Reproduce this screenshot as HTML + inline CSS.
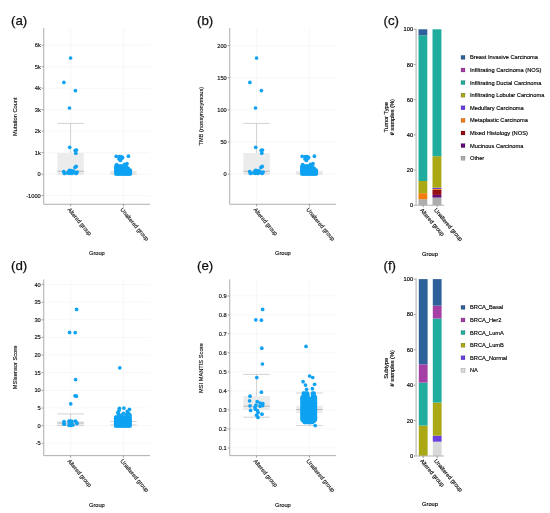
<!DOCTYPE html>
<html><head><meta charset="utf-8"><title>Figure</title>
<style>html,body{margin:0;padding:0;background:#fff}svg{display:block;filter:blur(0.35px);font-family:"Liberation Sans",sans-serif}</style>
</head><body>
<svg width="550" height="513" viewBox="0 0 550 513">
<rect width="550" height="513" fill="#fff"/>
<g>
<g stroke="#f5f5f5" stroke-width="0.7" fill="none">
<path d="M43.75 45.2H150"/>
<path d="M43.75 66.7H150"/>
<path d="M43.75 88.2H150"/>
<path d="M43.75 109.7H150"/>
<path d="M43.75 131.2H150"/>
<path d="M43.75 152.7H150"/>
<path d="M43.75 174.2H150"/>
<path d="M43.75 195.6H150"/>
<path d="M70.6 28V204.25"/>
<path d="M123.4 28V204.25"/>
</g>
<g stroke="#c6c6c6" stroke-width="0.8" fill="#ececec">
<path d="M70.6 123.4V153M70.6 173.4V173.9" fill="none"/>
<path d="M57.4 123.4H83.8M57.4 173.9H83.8" fill="none"/>
<rect x="57.4" y="153" width="26.4" height="20.4" stroke="none"/>
<path d="M57.4 171.3H83.8" stroke="#adadad" fill="none"/>
</g>
<g stroke="#c6c6c6" stroke-width="0.8" fill="#ececec">
<path d="M110.2 171.9H136.6M110.2 173.85H136.6" fill="none"/>
</g>
<path d="M43.75 28V204.25H150" stroke="#adadad" stroke-width="1" fill="none"/>
<g stroke="#777" stroke-width="0.7">
<path d="M41.65 45.2H43.35"/>
<path d="M41.65 66.7H43.35"/>
<path d="M41.65 88.2H43.35"/>
<path d="M41.65 109.7H43.35"/>
<path d="M41.65 131.2H43.35"/>
<path d="M41.65 152.7H43.35"/>
<path d="M41.65 174.2H43.35"/>
<path d="M41.65 195.6H43.35"/>
<path d="M70.6 204.25V206.25"/>
<path d="M123.4 204.25V206.25"/>
</g>
<g font-size="5.7" fill="#111" stroke="#111" stroke-width="0.15" text-anchor="end">
<text x="40.75" y="47.2">6k</text>
<text x="40.75" y="68.7">5k</text>
<text x="40.75" y="90.2">4k</text>
<text x="40.75" y="111.7">3k</text>
<text x="40.75" y="133.2">2k</text>
<text x="40.75" y="154.7">1k</text>
<text x="40.75" y="176.2">0</text>
<text x="40.75" y="197.6">-1000</text>
</g>
<g font-size="5.7" fill="#111" stroke="#111" stroke-width="0.15">
<text transform="translate(67.2 209.85) rotate(50)">Altered group</text>
<text transform="translate(120 209.85) rotate(50)">Unaltered group</text>
<text x="96.88" y="255.25" text-anchor="middle">Group</text>
<text transform="translate(16.75 116.6) rotate(-90)" text-anchor="middle">Mutation Count</text>
</g>
<text x="11" y="25" font-size="13.3" fill="#111" stroke="#111" stroke-width="0.25">(a)</text>
<g fill="#0fa2f2">
<circle cx="70.6" cy="58" r="1.85"/>
<circle cx="63.9" cy="82.4" r="1.85"/>
<circle cx="75.4" cy="90.6" r="1.85"/>
<circle cx="69.5" cy="108" r="1.85"/>
<circle cx="69.7" cy="147.3" r="1.85"/>
<circle cx="76.5" cy="150" r="1.85"/>
<circle cx="75.2" cy="150.4" r="1.85"/>
<circle cx="75.8" cy="153.2" r="1.85"/>
<circle cx="76.2" cy="166.4" r="1.85"/>
<circle cx="75" cy="167.4" r="1.85"/>
<circle cx="63.7" cy="171.5" r="1.85"/>
<circle cx="64.4" cy="173.5" r="1.85"/>
<circle cx="68.6" cy="171.8" r="1.85"/>
<circle cx="70.6" cy="171.2" r="1.85"/>
<circle cx="73" cy="172" r="1.85"/>
<circle cx="74.9" cy="172.6" r="1.85"/>
<circle cx="77.2" cy="172" r="1.85"/>
<circle cx="69.5" cy="173.3" r="1.85"/>
<circle cx="72" cy="173.4" r="1.85"/>
<circle cx="76.2" cy="173.5" r="1.85"/>
<circle cx="67.6" cy="173" r="1.85"/>
<circle cx="69.5" cy="170.3" r="1.85"/>
<circle cx="71.5" cy="170.5" r="1.85"/>
<circle cx="73.5" cy="171" r="1.85"/>
<circle cx="70.6" cy="172.5" r="1.85"/>
<circle cx="116.2" cy="156.3" r="1.85"/>
<circle cx="119.3" cy="156.7" r="1.85"/>
<circle cx="121" cy="156.5" r="1.85"/>
<circle cx="122.5" cy="157.3" r="1.85"/>
<circle cx="128.4" cy="156.2" r="1.85"/>
<circle cx="119" cy="159" r="1.85"/>
<circle cx="120.4" cy="160.4" r="1.85"/>
<circle cx="121.8" cy="158.4" r="1.85"/>
<circle cx="127" cy="163.7" r="1.85"/>
<circle cx="116.7" cy="164.5" r="1.85"/>
<circle cx="124.5" cy="164.3" r="1.85"/>
<circle cx="116" cy="166" r="1.85"/>
<circle cx="117.17" cy="166" r="1.85"/>
<circle cx="118.41" cy="166" r="1.85"/>
<circle cx="119.79" cy="166" r="1.85"/>
<circle cx="120.75" cy="166" r="1.85"/>
<circle cx="121.96" cy="166" r="1.85"/>
<circle cx="123.19" cy="166" r="1.85"/>
<circle cx="124.18" cy="166" r="1.85"/>
<circle cx="125.54" cy="166" r="1.85"/>
<circle cx="116" cy="167.21" r="1.85"/>
<circle cx="117.34" cy="166.94" r="1.85"/>
<circle cx="118.29" cy="166.94" r="1.85"/>
<circle cx="119.73" cy="167.24" r="1.85"/>
<circle cx="120.54" cy="167.38" r="1.85"/>
<circle cx="122.19" cy="167.22" r="1.85"/>
<circle cx="123.21" cy="166.97" r="1.85"/>
<circle cx="124.1" cy="167.16" r="1.85"/>
<circle cx="125.31" cy="166.99" r="1.85"/>
<circle cx="126.6" cy="166.91" r="1.85"/>
<circle cx="116" cy="168.27" r="1.85"/>
<circle cx="117.16" cy="168.46" r="1.85"/>
<circle cx="118.39" cy="168.36" r="1.85"/>
<circle cx="119.57" cy="168.37" r="1.85"/>
<circle cx="120.75" cy="168.17" r="1.85"/>
<circle cx="122.21" cy="168.53" r="1.85"/>
<circle cx="123.32" cy="168.39" r="1.85"/>
<circle cx="124.25" cy="168.15" r="1.85"/>
<circle cx="125.43" cy="168.07" r="1.85"/>
<circle cx="126.86" cy="168.24" r="1.85"/>
<circle cx="128.09" cy="168.23" r="1.85"/>
<circle cx="116" cy="169.66" r="1.85"/>
<circle cx="117.37" cy="169.18" r="1.85"/>
<circle cx="118.24" cy="169.63" r="1.85"/>
<circle cx="119.56" cy="169.67" r="1.85"/>
<circle cx="120.72" cy="169.22" r="1.85"/>
<circle cx="122.02" cy="169.57" r="1.85"/>
<circle cx="123.03" cy="169.22" r="1.85"/>
<circle cx="124.26" cy="169.66" r="1.85"/>
<circle cx="125.66" cy="169.24" r="1.85"/>
<circle cx="126.6" cy="169.23" r="1.85"/>
<circle cx="127.7" cy="169.58" r="1.85"/>
<circle cx="128.95" cy="169.46" r="1.85"/>
<circle cx="116" cy="170.55" r="1.85"/>
<circle cx="117.04" cy="170.69" r="1.85"/>
<circle cx="118.2" cy="170.64" r="1.85"/>
<circle cx="119.38" cy="170.53" r="1.85"/>
<circle cx="120.62" cy="170.46" r="1.85"/>
<circle cx="122.19" cy="170.72" r="1.85"/>
<circle cx="123.05" cy="170.76" r="1.85"/>
<circle cx="124.2" cy="170.52" r="1.85"/>
<circle cx="125.71" cy="170.64" r="1.85"/>
<circle cx="126.53" cy="170.82" r="1.85"/>
<circle cx="127.77" cy="170.45" r="1.85"/>
<circle cx="129.24" cy="170.49" r="1.85"/>
<circle cx="130.3" cy="170.47" r="1.85"/>
<circle cx="116" cy="171.5" r="1.85"/>
<circle cx="116.99" cy="171.76" r="1.85"/>
<circle cx="118.25" cy="171.76" r="1.85"/>
<circle cx="119.51" cy="171.69" r="1.85"/>
<circle cx="121" cy="171.71" r="1.85"/>
<circle cx="122" cy="171.9" r="1.85"/>
<circle cx="122.99" cy="171.54" r="1.85"/>
<circle cx="124.55" cy="171.87" r="1.85"/>
<circle cx="125.41" cy="171.56" r="1.85"/>
<circle cx="126.84" cy="171.93" r="1.85"/>
<circle cx="127.76" cy="171.94" r="1.85"/>
<circle cx="129.3" cy="171.77" r="1.85"/>
<circle cx="130.3" cy="171.68" r="1.85"/>
<circle cx="116" cy="172.66" r="1.85"/>
<circle cx="116.96" cy="173.09" r="1.85"/>
<circle cx="118.25" cy="172.96" r="1.85"/>
<circle cx="119.45" cy="173.02" r="1.85"/>
<circle cx="120.81" cy="172.75" r="1.85"/>
<circle cx="121.8" cy="172.97" r="1.85"/>
<circle cx="122.93" cy="172.72" r="1.85"/>
<circle cx="124.37" cy="173.03" r="1.85"/>
<circle cx="125.59" cy="172.75" r="1.85"/>
<circle cx="126.93" cy="172.71" r="1.85"/>
<circle cx="127.67" cy="172.74" r="1.85"/>
<circle cx="129.08" cy="172.64" r="1.85"/>
<circle cx="130.3" cy="172.7" r="1.85"/>
<circle cx="116" cy="174" r="1.85"/>
<circle cx="117.13" cy="174" r="1.85"/>
<circle cx="118.42" cy="174" r="1.85"/>
<circle cx="119.39" cy="174" r="1.85"/>
<circle cx="120.7" cy="174" r="1.85"/>
<circle cx="122.15" cy="174" r="1.85"/>
<circle cx="123.39" cy="174" r="1.85"/>
<circle cx="124.42" cy="174" r="1.85"/>
<circle cx="125.63" cy="174" r="1.85"/>
<circle cx="126.77" cy="174" r="1.85"/>
<circle cx="127.74" cy="174" r="1.85"/>
<circle cx="128.88" cy="174" r="1.85"/>
<circle cx="130.3" cy="174" r="1.85"/>
</g>
</g>
<g>
<g stroke="#f5f5f5" stroke-width="0.7" fill="none">
<path d="M229.75 45.5H336"/>
<path d="M229.75 77.7H336"/>
<path d="M229.75 109.8H336"/>
<path d="M229.75 142H336"/>
<path d="M229.75 174.2H336"/>
<path d="M256.6 28V204.25"/>
<path d="M309.4 28V204.25"/>
</g>
<g stroke="#c6c6c6" stroke-width="0.8" fill="#ececec">
<path d="M256.6 123.4V153M256.6 173.4V173.9" fill="none"/>
<path d="M243.4 123.4H269.8M243.4 173.9H269.8" fill="none"/>
<rect x="243.4" y="153" width="26.4" height="20.4" stroke="none"/>
<path d="M243.4 171.3H269.8" stroke="#adadad" fill="none"/>
</g>
<g stroke="#c6c6c6" stroke-width="0.8" fill="#ececec">
<path d="M296.2 171.9H322.6M296.2 173.85H322.6" fill="none"/>
</g>
<path d="M229.75 28V204.25H336" stroke="#adadad" stroke-width="1" fill="none"/>
<g stroke="#777" stroke-width="0.7">
<path d="M227.65 45.5H229.35"/>
<path d="M227.65 77.7H229.35"/>
<path d="M227.65 109.8H229.35"/>
<path d="M227.65 142H229.35"/>
<path d="M227.65 174.2H229.35"/>
<path d="M256.6 204.25V206.25"/>
<path d="M309.4 204.25V206.25"/>
</g>
<g font-size="5.7" fill="#111" stroke="#111" stroke-width="0.15" text-anchor="end">
<text x="226.75" y="47.5">200</text>
<text x="226.75" y="79.7">150</text>
<text x="226.75" y="111.8">100</text>
<text x="226.75" y="144">50</text>
<text x="226.75" y="176.2">0</text>
</g>
<g font-size="5.7" fill="#111" stroke="#111" stroke-width="0.15">
<text transform="translate(253.2 209.85) rotate(50)">Altered group</text>
<text transform="translate(306 209.85) rotate(50)">Unaltered group</text>
<text x="282.88" y="255.25" text-anchor="middle">Group</text>
<text transform="translate(202.75 116.2) rotate(-90)" text-anchor="middle">TMB (nonsynonymous)</text>
</g>
<text x="197" y="25" font-size="13.3" fill="#111" stroke="#111" stroke-width="0.25">(b)</text>
<g fill="#0fa2f2">
<circle cx="256.6" cy="58" r="1.85"/>
<circle cx="249.9" cy="82.4" r="1.85"/>
<circle cx="261.4" cy="90.6" r="1.85"/>
<circle cx="255.5" cy="108" r="1.85"/>
<circle cx="255.7" cy="147.3" r="1.85"/>
<circle cx="262.5" cy="150" r="1.85"/>
<circle cx="261.2" cy="150.4" r="1.85"/>
<circle cx="261.8" cy="153.2" r="1.85"/>
<circle cx="262.2" cy="166.4" r="1.85"/>
<circle cx="261" cy="167.4" r="1.85"/>
<circle cx="249.7" cy="171.5" r="1.85"/>
<circle cx="250.4" cy="173.5" r="1.85"/>
<circle cx="254.6" cy="171.8" r="1.85"/>
<circle cx="256.6" cy="171.2" r="1.85"/>
<circle cx="259" cy="172" r="1.85"/>
<circle cx="260.9" cy="172.6" r="1.85"/>
<circle cx="263.2" cy="172" r="1.85"/>
<circle cx="255.5" cy="173.3" r="1.85"/>
<circle cx="258" cy="173.4" r="1.85"/>
<circle cx="262.2" cy="173.5" r="1.85"/>
<circle cx="253.6" cy="173" r="1.85"/>
<circle cx="255.5" cy="170.3" r="1.85"/>
<circle cx="257.5" cy="170.5" r="1.85"/>
<circle cx="259.5" cy="171" r="1.85"/>
<circle cx="256.6" cy="172.5" r="1.85"/>
<circle cx="302.2" cy="156.3" r="1.85"/>
<circle cx="305.3" cy="156.7" r="1.85"/>
<circle cx="307" cy="156.5" r="1.85"/>
<circle cx="308.5" cy="157.3" r="1.85"/>
<circle cx="314.4" cy="156.2" r="1.85"/>
<circle cx="305" cy="159" r="1.85"/>
<circle cx="306.4" cy="160.4" r="1.85"/>
<circle cx="307.8" cy="158.4" r="1.85"/>
<circle cx="313" cy="163.7" r="1.85"/>
<circle cx="302.7" cy="164.5" r="1.85"/>
<circle cx="310.5" cy="164.3" r="1.85"/>
<circle cx="302" cy="166" r="1.85"/>
<circle cx="303.17" cy="166" r="1.85"/>
<circle cx="304.41" cy="166" r="1.85"/>
<circle cx="305.79" cy="166" r="1.85"/>
<circle cx="306.75" cy="166" r="1.85"/>
<circle cx="307.96" cy="166" r="1.85"/>
<circle cx="309.19" cy="166" r="1.85"/>
<circle cx="310.18" cy="166" r="1.85"/>
<circle cx="311.54" cy="166" r="1.85"/>
<circle cx="302" cy="167.21" r="1.85"/>
<circle cx="303.34" cy="166.94" r="1.85"/>
<circle cx="304.29" cy="166.94" r="1.85"/>
<circle cx="305.73" cy="167.24" r="1.85"/>
<circle cx="306.54" cy="167.38" r="1.85"/>
<circle cx="308.19" cy="167.22" r="1.85"/>
<circle cx="309.21" cy="166.97" r="1.85"/>
<circle cx="310.1" cy="167.16" r="1.85"/>
<circle cx="311.31" cy="166.99" r="1.85"/>
<circle cx="312.6" cy="166.91" r="1.85"/>
<circle cx="302" cy="168.27" r="1.85"/>
<circle cx="303.16" cy="168.46" r="1.85"/>
<circle cx="304.39" cy="168.36" r="1.85"/>
<circle cx="305.57" cy="168.37" r="1.85"/>
<circle cx="306.75" cy="168.17" r="1.85"/>
<circle cx="308.21" cy="168.53" r="1.85"/>
<circle cx="309.32" cy="168.39" r="1.85"/>
<circle cx="310.25" cy="168.15" r="1.85"/>
<circle cx="311.43" cy="168.07" r="1.85"/>
<circle cx="312.86" cy="168.24" r="1.85"/>
<circle cx="314.09" cy="168.23" r="1.85"/>
<circle cx="302" cy="169.66" r="1.85"/>
<circle cx="303.37" cy="169.18" r="1.85"/>
<circle cx="304.24" cy="169.63" r="1.85"/>
<circle cx="305.56" cy="169.67" r="1.85"/>
<circle cx="306.72" cy="169.22" r="1.85"/>
<circle cx="308.02" cy="169.57" r="1.85"/>
<circle cx="309.03" cy="169.22" r="1.85"/>
<circle cx="310.26" cy="169.66" r="1.85"/>
<circle cx="311.66" cy="169.24" r="1.85"/>
<circle cx="312.6" cy="169.23" r="1.85"/>
<circle cx="313.7" cy="169.58" r="1.85"/>
<circle cx="314.95" cy="169.46" r="1.85"/>
<circle cx="302" cy="170.55" r="1.85"/>
<circle cx="303.04" cy="170.69" r="1.85"/>
<circle cx="304.2" cy="170.64" r="1.85"/>
<circle cx="305.38" cy="170.53" r="1.85"/>
<circle cx="306.62" cy="170.46" r="1.85"/>
<circle cx="308.19" cy="170.72" r="1.85"/>
<circle cx="309.05" cy="170.76" r="1.85"/>
<circle cx="310.2" cy="170.52" r="1.85"/>
<circle cx="311.71" cy="170.64" r="1.85"/>
<circle cx="312.53" cy="170.82" r="1.85"/>
<circle cx="313.77" cy="170.45" r="1.85"/>
<circle cx="315.24" cy="170.49" r="1.85"/>
<circle cx="316.3" cy="170.47" r="1.85"/>
<circle cx="302" cy="171.5" r="1.85"/>
<circle cx="302.99" cy="171.76" r="1.85"/>
<circle cx="304.25" cy="171.76" r="1.85"/>
<circle cx="305.51" cy="171.69" r="1.85"/>
<circle cx="307" cy="171.71" r="1.85"/>
<circle cx="308" cy="171.9" r="1.85"/>
<circle cx="308.99" cy="171.54" r="1.85"/>
<circle cx="310.55" cy="171.87" r="1.85"/>
<circle cx="311.41" cy="171.56" r="1.85"/>
<circle cx="312.84" cy="171.93" r="1.85"/>
<circle cx="313.76" cy="171.94" r="1.85"/>
<circle cx="315.3" cy="171.77" r="1.85"/>
<circle cx="316.3" cy="171.68" r="1.85"/>
<circle cx="302" cy="172.66" r="1.85"/>
<circle cx="302.96" cy="173.09" r="1.85"/>
<circle cx="304.25" cy="172.96" r="1.85"/>
<circle cx="305.45" cy="173.02" r="1.85"/>
<circle cx="306.81" cy="172.75" r="1.85"/>
<circle cx="307.8" cy="172.97" r="1.85"/>
<circle cx="308.93" cy="172.72" r="1.85"/>
<circle cx="310.37" cy="173.03" r="1.85"/>
<circle cx="311.59" cy="172.75" r="1.85"/>
<circle cx="312.93" cy="172.71" r="1.85"/>
<circle cx="313.67" cy="172.74" r="1.85"/>
<circle cx="315.08" cy="172.64" r="1.85"/>
<circle cx="316.3" cy="172.7" r="1.85"/>
<circle cx="302" cy="174" r="1.85"/>
<circle cx="303.13" cy="174" r="1.85"/>
<circle cx="304.42" cy="174" r="1.85"/>
<circle cx="305.39" cy="174" r="1.85"/>
<circle cx="306.7" cy="174" r="1.85"/>
<circle cx="308.15" cy="174" r="1.85"/>
<circle cx="309.39" cy="174" r="1.85"/>
<circle cx="310.42" cy="174" r="1.85"/>
<circle cx="311.63" cy="174" r="1.85"/>
<circle cx="312.77" cy="174" r="1.85"/>
<circle cx="313.74" cy="174" r="1.85"/>
<circle cx="314.88" cy="174" r="1.85"/>
<circle cx="316.3" cy="174" r="1.85"/>
</g>
</g>
<g>
<g stroke="#f5f5f5" stroke-width="0.7" fill="none">
<path d="M43.75 284.6H150"/>
<path d="M43.75 302.2H150"/>
<path d="M43.75 319.8H150"/>
<path d="M43.75 337.4H150"/>
<path d="M43.75 355H150"/>
<path d="M43.75 372.6H150"/>
<path d="M43.75 390.4H150"/>
<path d="M43.75 408H150"/>
<path d="M43.75 425.6H150"/>
<path d="M43.75 443.2H150"/>
<path d="M70.6 279.4V455.65"/>
<path d="M123.4 279.4V455.65"/>
</g>
<g stroke="#c6c6c6" stroke-width="0.8" fill="#ececec">
<path d="M70.6 413.9V421M70.6 425V425.4" fill="none"/>
<path d="M57.4 413.9H83.8M57.4 425.4H83.8" fill="none"/>
<rect x="57.4" y="421" width="26.4" height="4" stroke="none"/>
<path d="M57.4 423H83.8" stroke="#adadad" fill="none"/>
</g>
<g stroke="#c6c6c6" stroke-width="0.8" fill="#ececec">
<path d="M110.2 421.5H136.6M110.2 425H136.6" fill="none"/>
</g>
<path d="M43.75 279.4V455.65H150" stroke="#adadad" stroke-width="1" fill="none"/>
<g stroke="#777" stroke-width="0.7">
<path d="M41.65 284.6H43.35"/>
<path d="M41.65 302.2H43.35"/>
<path d="M41.65 319.8H43.35"/>
<path d="M41.65 337.4H43.35"/>
<path d="M41.65 355H43.35"/>
<path d="M41.65 372.6H43.35"/>
<path d="M41.65 390.4H43.35"/>
<path d="M41.65 408H43.35"/>
<path d="M41.65 425.6H43.35"/>
<path d="M41.65 443.2H43.35"/>
<path d="M70.6 455.65V457.65"/>
<path d="M123.4 455.65V457.65"/>
</g>
<g font-size="5.7" fill="#111" stroke="#111" stroke-width="0.15" text-anchor="end">
<text x="40.75" y="286.6">40</text>
<text x="40.75" y="304.2">35</text>
<text x="40.75" y="321.8">30</text>
<text x="40.75" y="339.4">25</text>
<text x="40.75" y="357">20</text>
<text x="40.75" y="374.6">15</text>
<text x="40.75" y="392.4">10</text>
<text x="40.75" y="410">5</text>
<text x="40.75" y="427.6">0</text>
<text x="40.75" y="445.2">-5</text>
</g>
<g font-size="5.7" fill="#111" stroke="#111" stroke-width="0.15">
<text transform="translate(67.2 461.25) rotate(50)">Altered group</text>
<text transform="translate(120 461.25) rotate(50)">Unaltered group</text>
<text x="96.88" y="506.65" text-anchor="middle">Group</text>
<text transform="translate(16.75 367.5) rotate(-90)" text-anchor="middle">MSIsensor Score</text>
</g>
<text x="11" y="270" font-size="13.3" fill="#111" stroke="#111" stroke-width="0.25">(d)</text>
<g fill="#0fa2f2">
<circle cx="76.6" cy="309.4" r="1.85"/>
<circle cx="69.6" cy="332.4" r="1.85"/>
<circle cx="75.2" cy="332.6" r="1.85"/>
<circle cx="75.6" cy="379.6" r="1.85"/>
<circle cx="75" cy="395.8" r="1.85"/>
<circle cx="76.4" cy="396.2" r="1.85"/>
<circle cx="70.7" cy="403.8" r="1.85"/>
<circle cx="64" cy="421.6" r="1.85"/>
<circle cx="63.8" cy="423.8" r="1.85"/>
<circle cx="70.4" cy="421" r="1.85"/>
<circle cx="69.5" cy="423" r="1.85"/>
<circle cx="71.5" cy="423" r="1.85"/>
<circle cx="69" cy="425.3" r="1.85"/>
<circle cx="71" cy="425.5" r="1.85"/>
<circle cx="73" cy="425" r="1.85"/>
<circle cx="75.5" cy="421" r="1.85"/>
<circle cx="76.5" cy="422.5" r="1.85"/>
<circle cx="77" cy="423.6" r="1.85"/>
<circle cx="69" cy="421.2" r="1.85"/>
<circle cx="72" cy="421.3" r="1.85"/>
<circle cx="64.3" cy="424.2" r="1.85"/>
<circle cx="119.8" cy="367.8" r="1.85"/>
<circle cx="119.4" cy="408.3" r="1.85"/>
<circle cx="123.9" cy="408.1" r="1.85"/>
<circle cx="129.5" cy="409.4" r="1.85"/>
<circle cx="119" cy="410.6" r="1.85"/>
<circle cx="127.2" cy="411.4" r="1.85"/>
<circle cx="123.3" cy="413.3" r="1.85"/>
<circle cx="117.8" cy="412.5" r="1.85"/>
<circle cx="128.7" cy="413.3" r="1.85"/>
<circle cx="118.6" cy="414.2" r="1.85"/>
<circle cx="126.4" cy="414.6" r="1.85"/>
<circle cx="121" cy="415.3" r="1.85"/>
<circle cx="130" cy="415" r="1.85"/>
<circle cx="115.7" cy="417.1" r="1.85"/>
<circle cx="116.76" cy="417.1" r="1.85"/>
<circle cx="118.51" cy="417.1" r="1.85"/>
<circle cx="119.7" cy="417.1" r="1.85"/>
<circle cx="121.13" cy="417.1" r="1.85"/>
<circle cx="121.96" cy="417.1" r="1.85"/>
<circle cx="123.57" cy="417.1" r="1.85"/>
<circle cx="124.79" cy="417.1" r="1.85"/>
<circle cx="126.22" cy="417.1" r="1.85"/>
<circle cx="127.31" cy="417.1" r="1.85"/>
<circle cx="128.95" cy="417.1" r="1.85"/>
<circle cx="130" cy="417.1" r="1.85"/>
<circle cx="115.7" cy="418.14" r="1.85"/>
<circle cx="117.02" cy="418.48" r="1.85"/>
<circle cx="118.5" cy="418.48" r="1.85"/>
<circle cx="119.7" cy="418.5" r="1.85"/>
<circle cx="121.11" cy="418.28" r="1.85"/>
<circle cx="122.29" cy="418.56" r="1.85"/>
<circle cx="123.69" cy="418.32" r="1.85"/>
<circle cx="124.95" cy="418.54" r="1.85"/>
<circle cx="126.14" cy="418.42" r="1.85"/>
<circle cx="127.34" cy="418.4" r="1.85"/>
<circle cx="128.75" cy="418.15" r="1.85"/>
<circle cx="130" cy="418.43" r="1.85"/>
<circle cx="115.7" cy="419.86" r="1.85"/>
<circle cx="117.19" cy="419.73" r="1.85"/>
<circle cx="118.24" cy="419.73" r="1.85"/>
<circle cx="119.64" cy="419.58" r="1.85"/>
<circle cx="121.07" cy="419.41" r="1.85"/>
<circle cx="122.33" cy="419.38" r="1.85"/>
<circle cx="123.55" cy="419.6" r="1.85"/>
<circle cx="124.67" cy="419.71" r="1.85"/>
<circle cx="126.1" cy="419.67" r="1.85"/>
<circle cx="127.61" cy="419.49" r="1.85"/>
<circle cx="128.46" cy="419.51" r="1.85"/>
<circle cx="130" cy="419.7" r="1.85"/>
<circle cx="115.7" cy="420.72" r="1.85"/>
<circle cx="116.83" cy="421.07" r="1.85"/>
<circle cx="118.38" cy="420.84" r="1.85"/>
<circle cx="119.8" cy="420.78" r="1.85"/>
<circle cx="120.98" cy="420.72" r="1.85"/>
<circle cx="122.17" cy="421.02" r="1.85"/>
<circle cx="123.71" cy="421.06" r="1.85"/>
<circle cx="124.74" cy="420.91" r="1.85"/>
<circle cx="126.01" cy="420.69" r="1.85"/>
<circle cx="127.4" cy="421.04" r="1.85"/>
<circle cx="128.87" cy="420.98" r="1.85"/>
<circle cx="130" cy="421.1" r="1.85"/>
<circle cx="115.7" cy="422.02" r="1.85"/>
<circle cx="116.83" cy="422.1" r="1.85"/>
<circle cx="118.19" cy="421.99" r="1.85"/>
<circle cx="119.56" cy="422.19" r="1.85"/>
<circle cx="120.9" cy="422.04" r="1.85"/>
<circle cx="122.37" cy="422.37" r="1.85"/>
<circle cx="123.48" cy="421.92" r="1.85"/>
<circle cx="124.57" cy="422.31" r="1.85"/>
<circle cx="125.87" cy="422.23" r="1.85"/>
<circle cx="127.44" cy="422.03" r="1.85"/>
<circle cx="128.85" cy="421.89" r="1.85"/>
<circle cx="130" cy="421.95" r="1.85"/>
<circle cx="115.7" cy="423.36" r="1.85"/>
<circle cx="116.76" cy="423.55" r="1.85"/>
<circle cx="118.17" cy="423.21" r="1.85"/>
<circle cx="119.37" cy="423.45" r="1.85"/>
<circle cx="120.87" cy="423.45" r="1.85"/>
<circle cx="122.28" cy="423.54" r="1.85"/>
<circle cx="123.73" cy="423.48" r="1.85"/>
<circle cx="124.65" cy="423.37" r="1.85"/>
<circle cx="125.94" cy="423.14" r="1.85"/>
<circle cx="127.39" cy="423.49" r="1.85"/>
<circle cx="128.54" cy="423.27" r="1.85"/>
<circle cx="130" cy="423.31" r="1.85"/>
<circle cx="115.7" cy="424.74" r="1.85"/>
<circle cx="117.01" cy="424.7" r="1.85"/>
<circle cx="118.43" cy="424.59" r="1.85"/>
<circle cx="119.75" cy="424.85" r="1.85"/>
<circle cx="120.69" cy="424.86" r="1.85"/>
<circle cx="122.31" cy="424.46" r="1.85"/>
<circle cx="123.48" cy="424.71" r="1.85"/>
<circle cx="125" cy="424.58" r="1.85"/>
<circle cx="126.13" cy="424.83" r="1.85"/>
<circle cx="127.55" cy="424.86" r="1.85"/>
<circle cx="128.68" cy="424.72" r="1.85"/>
<circle cx="130" cy="424.5" r="1.85"/>
<circle cx="115.7" cy="425.9" r="1.85"/>
<circle cx="117.11" cy="425.9" r="1.85"/>
<circle cx="118.46" cy="425.9" r="1.85"/>
<circle cx="119.67" cy="425.9" r="1.85"/>
<circle cx="121.01" cy="425.9" r="1.85"/>
<circle cx="122.06" cy="425.9" r="1.85"/>
<circle cx="123.7" cy="425.9" r="1.85"/>
<circle cx="125.04" cy="425.9" r="1.85"/>
<circle cx="126.34" cy="425.9" r="1.85"/>
<circle cx="127.42" cy="425.9" r="1.85"/>
<circle cx="128.85" cy="425.9" r="1.85"/>
<circle cx="130" cy="425.9" r="1.85"/>
</g>
</g>
<g>
<g stroke="#f5f5f5" stroke-width="0.7" fill="none">
<path d="M229.75 296H336"/>
<path d="M229.75 314.9H336"/>
<path d="M229.75 333.8H336"/>
<path d="M229.75 352.8H336"/>
<path d="M229.75 371.8H336"/>
<path d="M229.75 390.8H336"/>
<path d="M229.75 409.8H336"/>
<path d="M229.75 429H336"/>
<path d="M229.75 448H336"/>
<path d="M256.6 279.4V455.65"/>
<path d="M309.4 279.4V455.65"/>
</g>
<g stroke="#c6c6c6" stroke-width="0.8" fill="#ececec">
<path d="M256.6 374.4V396.2M256.6 410V417.2" fill="none"/>
<path d="M243.4 374.4H269.8M243.4 417.2H269.8" fill="none"/>
<rect x="243.4" y="396.2" width="26.4" height="13.8" stroke="none"/>
<path d="M243.4 406.2H269.8" stroke="#adadad" fill="none"/>
</g>
<g stroke="#c6c6c6" stroke-width="0.8" fill="#ececec">
<path d="M309.4 393V405.7M309.4 413.4V425.6" fill="none"/>
<path d="M296.2 393H322.6M296.2 425.6H322.6" fill="none"/>
<rect x="296.2" y="405.7" width="26.4" height="7.7" stroke="none"/>
<path d="M296.2 409.5H322.6" stroke="#adadad" fill="none"/>
</g>
<path d="M229.75 279.4V455.65H336" stroke="#adadad" stroke-width="1" fill="none"/>
<g stroke="#777" stroke-width="0.7">
<path d="M227.65 296H229.35"/>
<path d="M227.65 314.9H229.35"/>
<path d="M227.65 333.8H229.35"/>
<path d="M227.65 352.8H229.35"/>
<path d="M227.65 371.8H229.35"/>
<path d="M227.65 390.8H229.35"/>
<path d="M227.65 409.8H229.35"/>
<path d="M227.65 429H229.35"/>
<path d="M227.65 448H229.35"/>
<path d="M256.6 455.65V457.65"/>
<path d="M309.4 455.65V457.65"/>
</g>
<g font-size="5.7" fill="#111" stroke="#111" stroke-width="0.15" text-anchor="end">
<text x="226.75" y="298">0.9</text>
<text x="226.75" y="316.9">0.8</text>
<text x="226.75" y="335.8">0.7</text>
<text x="226.75" y="354.8">0.6</text>
<text x="226.75" y="373.8">0.5</text>
<text x="226.75" y="392.8">0.4</text>
<text x="226.75" y="411.8">0.3</text>
<text x="226.75" y="431">0.2</text>
<text x="226.75" y="450">0.1</text>
</g>
<g font-size="5.7" fill="#111" stroke="#111" stroke-width="0.15">
<text transform="translate(253.2 461.25) rotate(50)">Altered group</text>
<text transform="translate(306 461.25) rotate(50)">Unaltered group</text>
<text x="282.88" y="506.65" text-anchor="middle">Group</text>
<text transform="translate(202.75 368.2) rotate(-90)" text-anchor="middle">MSI MANTIS Score</text>
</g>
<text x="197" y="270" font-size="13.3" fill="#111" stroke="#111" stroke-width="0.25">(e)</text>
<g fill="#0fa2f2">
<circle cx="262.6" cy="309.4" r="1.85"/>
<circle cx="255.8" cy="319.8" r="1.85"/>
<circle cx="261.4" cy="320.2" r="1.85"/>
<circle cx="261.8" cy="348.2" r="1.85"/>
<circle cx="262.4" cy="364" r="1.85"/>
<circle cx="256.8" cy="377.6" r="1.85"/>
<circle cx="261.4" cy="392.2" r="1.85"/>
<circle cx="250" cy="396.2" r="1.85"/>
<circle cx="249.6" cy="400.8" r="1.85"/>
<circle cx="257.2" cy="401.6" r="1.85"/>
<circle cx="260" cy="403" r="1.85"/>
<circle cx="262.8" cy="403.6" r="1.85"/>
<circle cx="256" cy="405" r="1.85"/>
<circle cx="250" cy="405.8" r="1.85"/>
<circle cx="260" cy="406.2" r="1.85"/>
<circle cx="262.6" cy="405.6" r="1.85"/>
<circle cx="255" cy="407.4" r="1.85"/>
<circle cx="255.4" cy="409.2" r="1.85"/>
<circle cx="250.6" cy="410.4" r="1.85"/>
<circle cx="257.4" cy="410.6" r="1.85"/>
<circle cx="258.2" cy="412.6" r="1.85"/>
<circle cx="262" cy="414.2" r="1.85"/>
<circle cx="256.6" cy="415.2" r="1.85"/>
<circle cx="258" cy="417.4" r="1.85"/>
<circle cx="306" cy="346.4" r="1.85"/>
<circle cx="309.6" cy="376" r="1.85"/>
<circle cx="312.7" cy="377.5" r="1.85"/>
<circle cx="303.1" cy="381.7" r="1.85"/>
<circle cx="305.5" cy="385.1" r="1.85"/>
<circle cx="314.6" cy="384.3" r="1.85"/>
<circle cx="306.6" cy="389.3" r="1.85"/>
<circle cx="312.4" cy="388.7" r="1.85"/>
<circle cx="315.2" cy="425.6" r="1.85"/>
<circle cx="303.34" cy="393" r="1.85"/>
<circle cx="304.96" cy="393" r="1.85"/>
<circle cx="306.27" cy="393" r="1.85"/>
<circle cx="307.34" cy="393" r="1.85"/>
<circle cx="312.53" cy="393" r="1.85"/>
<circle cx="314.04" cy="393" r="1.85"/>
<circle cx="303.46" cy="394.48" r="1.85"/>
<circle cx="304.75" cy="394.11" r="1.85"/>
<circle cx="306.24" cy="394.12" r="1.85"/>
<circle cx="307.57" cy="394.18" r="1.85"/>
<circle cx="312.66" cy="394.48" r="1.85"/>
<circle cx="313.89" cy="394.17" r="1.85"/>
<circle cx="303.44" cy="395.79" r="1.85"/>
<circle cx="304.93" cy="395.78" r="1.85"/>
<circle cx="306.31" cy="395.68" r="1.85"/>
<circle cx="307.64" cy="395.47" r="1.85"/>
<circle cx="312.6" cy="395.7" r="1.85"/>
<circle cx="313.97" cy="395.8" r="1.85"/>
<circle cx="302.1" cy="397.09" r="1.85"/>
<circle cx="303.44" cy="397.19" r="1.85"/>
<circle cx="304.79" cy="396.93" r="1.85"/>
<circle cx="306.03" cy="397.2" r="1.85"/>
<circle cx="307.62" cy="396.88" r="1.85"/>
<circle cx="312.92" cy="397.26" r="1.85"/>
<circle cx="314.08" cy="397.06" r="1.85"/>
<circle cx="315.4" cy="396.87" r="1.85"/>
<circle cx="302.1" cy="398.38" r="1.85"/>
<circle cx="303.43" cy="398.42" r="1.85"/>
<circle cx="304.52" cy="398.6" r="1.85"/>
<circle cx="306.1" cy="398.31" r="1.85"/>
<circle cx="307.57" cy="398.4" r="1.85"/>
<circle cx="308.75" cy="398.46" r="1.85"/>
<circle cx="309.86" cy="398.38" r="1.85"/>
<circle cx="311.37" cy="398.59" r="1.85"/>
<circle cx="312.95" cy="398.25" r="1.85"/>
<circle cx="314.06" cy="398.18" r="1.85"/>
<circle cx="315.4" cy="398.33" r="1.85"/>
<circle cx="302.1" cy="399.86" r="1.85"/>
<circle cx="303.63" cy="399.69" r="1.85"/>
<circle cx="304.67" cy="399.55" r="1.85"/>
<circle cx="306.15" cy="399.92" r="1.85"/>
<circle cx="307.23" cy="399.84" r="1.85"/>
<circle cx="308.51" cy="399.55" r="1.85"/>
<circle cx="309.94" cy="399.8" r="1.85"/>
<circle cx="311.32" cy="399.63" r="1.85"/>
<circle cx="312.8" cy="399.51" r="1.85"/>
<circle cx="314.19" cy="399.52" r="1.85"/>
<circle cx="315.4" cy="399.71" r="1.85"/>
<circle cx="302.1" cy="400.92" r="1.85"/>
<circle cx="303.28" cy="401.06" r="1.85"/>
<circle cx="304.73" cy="400.98" r="1.85"/>
<circle cx="306.05" cy="401.06" r="1.85"/>
<circle cx="307.25" cy="400.9" r="1.85"/>
<circle cx="308.82" cy="401.11" r="1.85"/>
<circle cx="310.09" cy="401.22" r="1.85"/>
<circle cx="311.47" cy="401.22" r="1.85"/>
<circle cx="312.61" cy="401.17" r="1.85"/>
<circle cx="314.23" cy="401.25" r="1.85"/>
<circle cx="315.4" cy="400.95" r="1.85"/>
<circle cx="302.1" cy="402.29" r="1.85"/>
<circle cx="303.64" cy="402.25" r="1.85"/>
<circle cx="305.01" cy="402.58" r="1.85"/>
<circle cx="305.91" cy="402.26" r="1.85"/>
<circle cx="307.53" cy="402.27" r="1.85"/>
<circle cx="308.55" cy="402.55" r="1.85"/>
<circle cx="310.04" cy="402.53" r="1.85"/>
<circle cx="311.22" cy="402.34" r="1.85"/>
<circle cx="312.83" cy="402.15" r="1.85"/>
<circle cx="313.92" cy="402.48" r="1.85"/>
<circle cx="315.4" cy="402.59" r="1.85"/>
<circle cx="302.1" cy="403.96" r="1.85"/>
<circle cx="303.24" cy="403.73" r="1.85"/>
<circle cx="304.89" cy="403.73" r="1.85"/>
<circle cx="306.18" cy="403.57" r="1.85"/>
<circle cx="307.21" cy="403.53" r="1.85"/>
<circle cx="308.52" cy="403.75" r="1.85"/>
<circle cx="310.09" cy="403.76" r="1.85"/>
<circle cx="311.23" cy="403.57" r="1.85"/>
<circle cx="312.59" cy="403.9" r="1.85"/>
<circle cx="314.32" cy="403.94" r="1.85"/>
<circle cx="315.4" cy="403.52" r="1.85"/>
<circle cx="302.1" cy="404.85" r="1.85"/>
<circle cx="303.66" cy="405.05" r="1.85"/>
<circle cx="304.89" cy="404.98" r="1.85"/>
<circle cx="306.07" cy="405.08" r="1.85"/>
<circle cx="307.39" cy="405.12" r="1.85"/>
<circle cx="308.51" cy="405.17" r="1.85"/>
<circle cx="310.25" cy="404.91" r="1.85"/>
<circle cx="311.39" cy="405.19" r="1.85"/>
<circle cx="312.69" cy="404.92" r="1.85"/>
<circle cx="313.9" cy="405.07" r="1.85"/>
<circle cx="315.4" cy="404.83" r="1.85"/>
<circle cx="302.1" cy="406.61" r="1.85"/>
<circle cx="303.58" cy="406.51" r="1.85"/>
<circle cx="304.94" cy="406.47" r="1.85"/>
<circle cx="306.04" cy="406.46" r="1.85"/>
<circle cx="307.42" cy="406.65" r="1.85"/>
<circle cx="308.9" cy="406.29" r="1.85"/>
<circle cx="310.29" cy="406.53" r="1.85"/>
<circle cx="311.55" cy="406.57" r="1.85"/>
<circle cx="312.69" cy="406.61" r="1.85"/>
<circle cx="314.26" cy="406.51" r="1.85"/>
<circle cx="315.4" cy="406.54" r="1.85"/>
<circle cx="302.1" cy="407.88" r="1.85"/>
<circle cx="303.38" cy="407.86" r="1.85"/>
<circle cx="304.55" cy="407.67" r="1.85"/>
<circle cx="306.07" cy="407.51" r="1.85"/>
<circle cx="307.35" cy="407.82" r="1.85"/>
<circle cx="308.81" cy="407.62" r="1.85"/>
<circle cx="310.3" cy="407.83" r="1.85"/>
<circle cx="311.33" cy="407.83" r="1.85"/>
<circle cx="312.77" cy="407.77" r="1.85"/>
<circle cx="314.01" cy="408" r="1.85"/>
<circle cx="315.4" cy="407.82" r="1.85"/>
<circle cx="302.1" cy="409.19" r="1.85"/>
<circle cx="303.56" cy="409.33" r="1.85"/>
<circle cx="304.52" cy="409.15" r="1.85"/>
<circle cx="306.21" cy="408.97" r="1.85"/>
<circle cx="307.37" cy="408.87" r="1.85"/>
<circle cx="308.6" cy="409.03" r="1.85"/>
<circle cx="309.88" cy="408.97" r="1.85"/>
<circle cx="311.61" cy="409.12" r="1.85"/>
<circle cx="312.74" cy="409.32" r="1.85"/>
<circle cx="314.1" cy="409.34" r="1.85"/>
<circle cx="315.4" cy="409.16" r="1.85"/>
<circle cx="302.1" cy="410.59" r="1.85"/>
<circle cx="303.22" cy="410.48" r="1.85"/>
<circle cx="304.89" cy="410.2" r="1.85"/>
<circle cx="306.31" cy="410.26" r="1.85"/>
<circle cx="307.41" cy="410.27" r="1.85"/>
<circle cx="308.75" cy="410.49" r="1.85"/>
<circle cx="309.86" cy="410.65" r="1.85"/>
<circle cx="311.37" cy="410.45" r="1.85"/>
<circle cx="312.79" cy="410.36" r="1.85"/>
<circle cx="313.96" cy="410.51" r="1.85"/>
<circle cx="315.4" cy="410.46" r="1.85"/>
<circle cx="302.1" cy="411.66" r="1.85"/>
<circle cx="303.54" cy="411.67" r="1.85"/>
<circle cx="304.52" cy="411.65" r="1.85"/>
<circle cx="305.86" cy="411.6" r="1.85"/>
<circle cx="307.55" cy="411.72" r="1.85"/>
<circle cx="308.95" cy="411.9" r="1.85"/>
<circle cx="309.86" cy="412.02" r="1.85"/>
<circle cx="311.63" cy="411.56" r="1.85"/>
<circle cx="312.94" cy="411.74" r="1.85"/>
<circle cx="314.06" cy="412.01" r="1.85"/>
<circle cx="315.4" cy="411.64" r="1.85"/>
<circle cx="302.1" cy="413.13" r="1.85"/>
<circle cx="303.65" cy="413.23" r="1.85"/>
<circle cx="304.74" cy="413.35" r="1.85"/>
<circle cx="306.25" cy="413.17" r="1.85"/>
<circle cx="307.23" cy="413.18" r="1.85"/>
<circle cx="308.73" cy="412.97" r="1.85"/>
<circle cx="309.86" cy="413.13" r="1.85"/>
<circle cx="311.22" cy="413.09" r="1.85"/>
<circle cx="312.82" cy="413.09" r="1.85"/>
<circle cx="313.95" cy="413.15" r="1.85"/>
<circle cx="315.4" cy="413.07" r="1.85"/>
<circle cx="302.1" cy="414.59" r="1.85"/>
<circle cx="303.45" cy="414.7" r="1.85"/>
<circle cx="304.99" cy="414.57" r="1.85"/>
<circle cx="305.96" cy="414.26" r="1.85"/>
<circle cx="307.62" cy="414.6" r="1.85"/>
<circle cx="308.81" cy="414.38" r="1.85"/>
<circle cx="309.97" cy="414.55" r="1.85"/>
<circle cx="311.44" cy="414.5" r="1.85"/>
<circle cx="312.81" cy="414.58" r="1.85"/>
<circle cx="313.91" cy="414.33" r="1.85"/>
<circle cx="315.4" cy="414.69" r="1.85"/>
<circle cx="302.1" cy="416" r="1.85"/>
<circle cx="303.62" cy="415.57" r="1.85"/>
<circle cx="304.54" cy="415.68" r="1.85"/>
<circle cx="306.05" cy="415.86" r="1.85"/>
<circle cx="307.22" cy="415.82" r="1.85"/>
<circle cx="308.54" cy="415.59" r="1.85"/>
<circle cx="310.17" cy="415.82" r="1.85"/>
<circle cx="311.48" cy="415.73" r="1.85"/>
<circle cx="312.73" cy="415.65" r="1.85"/>
<circle cx="313.99" cy="415.92" r="1.85"/>
<circle cx="315.4" cy="415.96" r="1.85"/>
<circle cx="302.1" cy="416.92" r="1.85"/>
<circle cx="303.24" cy="417.29" r="1.85"/>
<circle cx="304.82" cy="417.27" r="1.85"/>
<circle cx="305.95" cy="417.1" r="1.85"/>
<circle cx="307.3" cy="417.29" r="1.85"/>
<circle cx="308.68" cy="417.21" r="1.85"/>
<circle cx="310.32" cy="417.05" r="1.85"/>
<circle cx="311.43" cy="417.26" r="1.85"/>
<circle cx="312.95" cy="417.1" r="1.85"/>
<circle cx="314" cy="416.93" r="1.85"/>
<circle cx="315.4" cy="417.32" r="1.85"/>
<circle cx="302.1" cy="418.27" r="1.85"/>
<circle cx="303.22" cy="418.51" r="1.85"/>
<circle cx="304.75" cy="418.57" r="1.85"/>
<circle cx="305.99" cy="418.62" r="1.85"/>
<circle cx="307.21" cy="418.33" r="1.85"/>
<circle cx="308.83" cy="418.27" r="1.85"/>
<circle cx="309.98" cy="418.59" r="1.85"/>
<circle cx="311.51" cy="418.37" r="1.85"/>
<circle cx="312.56" cy="418.41" r="1.85"/>
<circle cx="314.18" cy="418.41" r="1.85"/>
<circle cx="315.4" cy="418.29" r="1.85"/>
<circle cx="302.1" cy="419.92" r="1.85"/>
<circle cx="303.46" cy="420.03" r="1.85"/>
<circle cx="304.98" cy="420.02" r="1.85"/>
<circle cx="306.06" cy="419.97" r="1.85"/>
<circle cx="307.32" cy="419.73" r="1.85"/>
<circle cx="308.7" cy="420.04" r="1.85"/>
<circle cx="310.28" cy="419.69" r="1.85"/>
<circle cx="311.34" cy="419.75" r="1.85"/>
<circle cx="312.67" cy="419.77" r="1.85"/>
<circle cx="314.01" cy="419.67" r="1.85"/>
<circle cx="315.4" cy="419.85" r="1.85"/>
<circle cx="303.58" cy="421.18" r="1.85"/>
<circle cx="304.93" cy="421.19" r="1.85"/>
<circle cx="305.93" cy="421.29" r="1.85"/>
<circle cx="307.61" cy="421.05" r="1.85"/>
<circle cx="308.51" cy="421.17" r="1.85"/>
<circle cx="310.1" cy="421.19" r="1.85"/>
<circle cx="311.64" cy="421.23" r="1.85"/>
<circle cx="312.89" cy="420.94" r="1.85"/>
<circle cx="314.09" cy="421.3" r="1.85"/>
<circle cx="304.55" cy="422.5" r="1.85"/>
<circle cx="305.88" cy="422.5" r="1.85"/>
<circle cx="307.54" cy="422.5" r="1.85"/>
<circle cx="308.95" cy="422.5" r="1.85"/>
<circle cx="309.87" cy="422.5" r="1.85"/>
<circle cx="311.48" cy="422.5" r="1.85"/>
<circle cx="312.56" cy="422.5" r="1.85"/>
</g>
</g>
<g>
<rect x="418.5" y="199.23" width="8.8" height="6.07" fill="#adadad"/>
<rect x="418.5" y="193.16" width="8.8" height="6.07" fill="#f27d0f"/>
<rect x="418.5" y="181.01" width="8.8" height="12.14" fill="#aaa814"/>
<rect x="418.5" y="35.37" width="8.8" height="145.64" fill="#20ad9e"/>
<rect x="418.5" y="29.30" width="8.8" height="6.07" fill="#2e6199"/>
<rect x="432.5" y="197.56" width="8.9" height="7.74" fill="#adadad"/>
<rect x="432.5" y="194.92" width="8.9" height="2.64" fill="#640b78"/>
<rect x="432.5" y="189.90" width="8.9" height="5.02" fill="#940f12"/>
<rect x="432.5" y="189.02" width="8.9" height="0.88" fill="#f27d0f"/>
<rect x="432.5" y="187.70" width="8.9" height="1.32" fill="#6a3fe0"/>
<rect x="432.5" y="156.20" width="8.9" height="31.50" fill="#aaa814"/>
<rect x="432.5" y="29.30" width="8.9" height="126.90" fill="#20ad9e"/>
<path d="M416.1 28.8V205.3H444" stroke="#b4b4b4" stroke-width="1.1" fill="none"/>
<g stroke="#777" stroke-width="0.7">
<path d="M413.7 205.3H415.6"/>
<path d="M413.7 170.1H415.6"/>
<path d="M413.7 134.9H415.6"/>
<path d="M413.7 99.7H415.6"/>
<path d="M413.7 64.5H415.6"/>
<path d="M413.7 29.3H415.6"/>
<path d="M423.2 205.3V207.3"/>
<path d="M437.2 205.3V207.3"/>
</g>
<g font-size="5.7" fill="#000" stroke="#000" stroke-width="0.15" text-anchor="end">
<text x="413.1" y="207.3">0</text>
<text x="413.1" y="172.1">20</text>
<text x="413.1" y="136.9">40</text>
<text x="413.1" y="101.7">60</text>
<text x="413.1" y="66.5">80</text>
<text x="413.1" y="31.3">100</text>
</g>
<g font-size="5.7" fill="#000" stroke="#000" stroke-width="0.15">
<text transform="translate(419.8 210.3) rotate(50)">Altered group</text>
<text transform="translate(433.8 210.3) rotate(50)">Unaltered group</text>
<text x="430" y="255.7" text-anchor="middle">Group</text>
<text transform="translate(388.4 117.2) rotate(-90)" text-anchor="middle">Tumor Type</text>
<text transform="translate(393.7 117.2) rotate(-90)" text-anchor="middle"># samples (%)</text>
<rect x="461" y="55.4" width="4" height="4" fill="#2e6199"/>
<text x="470" y="59.4">Breast Invasive Carcinoma</text>
<rect x="461" y="68" width="4" height="4" fill="#a53fa6"/>
<text x="470" y="72">Infiltrating Carcinoma (NOS)</text>
<rect x="461" y="80.6" width="4" height="4" fill="#20ad9e"/>
<text x="470" y="84.6">Infiltrating Ductal Carcinoma</text>
<rect x="461" y="93.2" width="4" height="4" fill="#aaa814"/>
<text x="470" y="97.2">Infiltrating Lobular Carcinoma</text>
<rect x="461" y="105.8" width="4" height="4" fill="#6a3fe0"/>
<text x="470" y="109.8">Medullary Carcinoma</text>
<rect x="461" y="118.4" width="4" height="4" fill="#f27d0f"/>
<text x="470" y="122.4">Metaplastic Carcinoma</text>
<rect x="461" y="131" width="4" height="4" fill="#940f12"/>
<text x="470" y="135">Mixed Histology (NOS)</text>
<rect x="461" y="143.6" width="4" height="4" fill="#640b78"/>
<text x="470" y="147.6">Mucinous Carcinoma</text>
<rect x="461" y="156.2" width="4" height="4" fill="#adadad"/>
<text x="470" y="160.2">Other</text>
</g>
<text x="383.5" y="25" font-size="13.3" fill="#111" stroke="#111" stroke-width="0.25">(c)</text>
</g>
<g>
<rect x="418.8" y="425.57" width="8.8" height="30.43" fill="#aaa814"/>
<rect x="418.8" y="382.59" width="8.8" height="42.99" fill="#20ad9e"/>
<rect x="418.8" y="364.37" width="8.8" height="18.22" fill="#a53fa6"/>
<rect x="418.8" y="279.10" width="8.8" height="85.27" fill="#2e6199"/>
<rect x="432.8" y="441.67" width="8.8" height="14.33" fill="#d9d9d9"/>
<rect x="432.8" y="435.66" width="8.8" height="6.01" fill="#6a3fe0"/>
<rect x="432.8" y="402.58" width="8.8" height="33.08" fill="#aaa814"/>
<rect x="432.8" y="318.55" width="8.8" height="84.03" fill="#20ad9e"/>
<rect x="432.8" y="305.63" width="8.8" height="12.91" fill="#a53fa6"/>
<rect x="432.8" y="279.10" width="8.8" height="26.53" fill="#2e6199"/>
<path d="M416.1 278.6V456H444" stroke="#b4b4b4" stroke-width="1.1" fill="none"/>
<g stroke="#777" stroke-width="0.7">
<path d="M413.7 456H415.6"/>
<path d="M413.7 420.62H415.6"/>
<path d="M413.7 385.24H415.6"/>
<path d="M413.7 349.86H415.6"/>
<path d="M413.7 314.48H415.6"/>
<path d="M413.7 279.1H415.6"/>
<path d="M423.2 456V458"/>
<path d="M437.2 456V458"/>
</g>
<g font-size="5.7" fill="#000" stroke="#000" stroke-width="0.15" text-anchor="end">
<text x="413.1" y="458">0</text>
<text x="413.1" y="422.62">20</text>
<text x="413.1" y="387.24">40</text>
<text x="413.1" y="351.86">60</text>
<text x="413.1" y="316.48">80</text>
<text x="413.1" y="281.1">100</text>
</g>
<g font-size="5.7" fill="#000" stroke="#000" stroke-width="0.15">
<text transform="translate(419.8 461) rotate(50)">Altered group</text>
<text transform="translate(433.8 461) rotate(50)">Unaltered group</text>
<text x="430" y="506.4" text-anchor="middle">Group</text>
<text transform="translate(388.4 368.25) rotate(-90)" text-anchor="middle">Subtype</text>
<text transform="translate(393.7 368.25) rotate(-90)" text-anchor="middle"># samples (%)</text>
<rect x="461" y="305.4" width="4" height="4" fill="#2e6199"/>
<text x="470" y="309.4">BRCA_Basal</text>
<rect x="461" y="318" width="4" height="4" fill="#a53fa6"/>
<text x="470" y="322">BRCA_Her2</text>
<rect x="461" y="330.6" width="4" height="4" fill="#20ad9e"/>
<text x="470" y="334.6">BRCA_LumA</text>
<rect x="461" y="343.2" width="4" height="4" fill="#aaa814"/>
<text x="470" y="347.2">BRCA_LumB</text>
<rect x="461" y="355.8" width="4" height="4" fill="#6a3fe0"/>
<text x="470" y="359.8">BRCA_Normal</text>
<rect x="461" y="368.4" width="4" height="4" fill="#d9d9d9"/>
<text x="470" y="372.4">NA</text>
</g>
<text x="383.5" y="270" font-size="13.3" fill="#111" stroke="#111" stroke-width="0.25">(f)</text>
</g>
</svg></body></html>
